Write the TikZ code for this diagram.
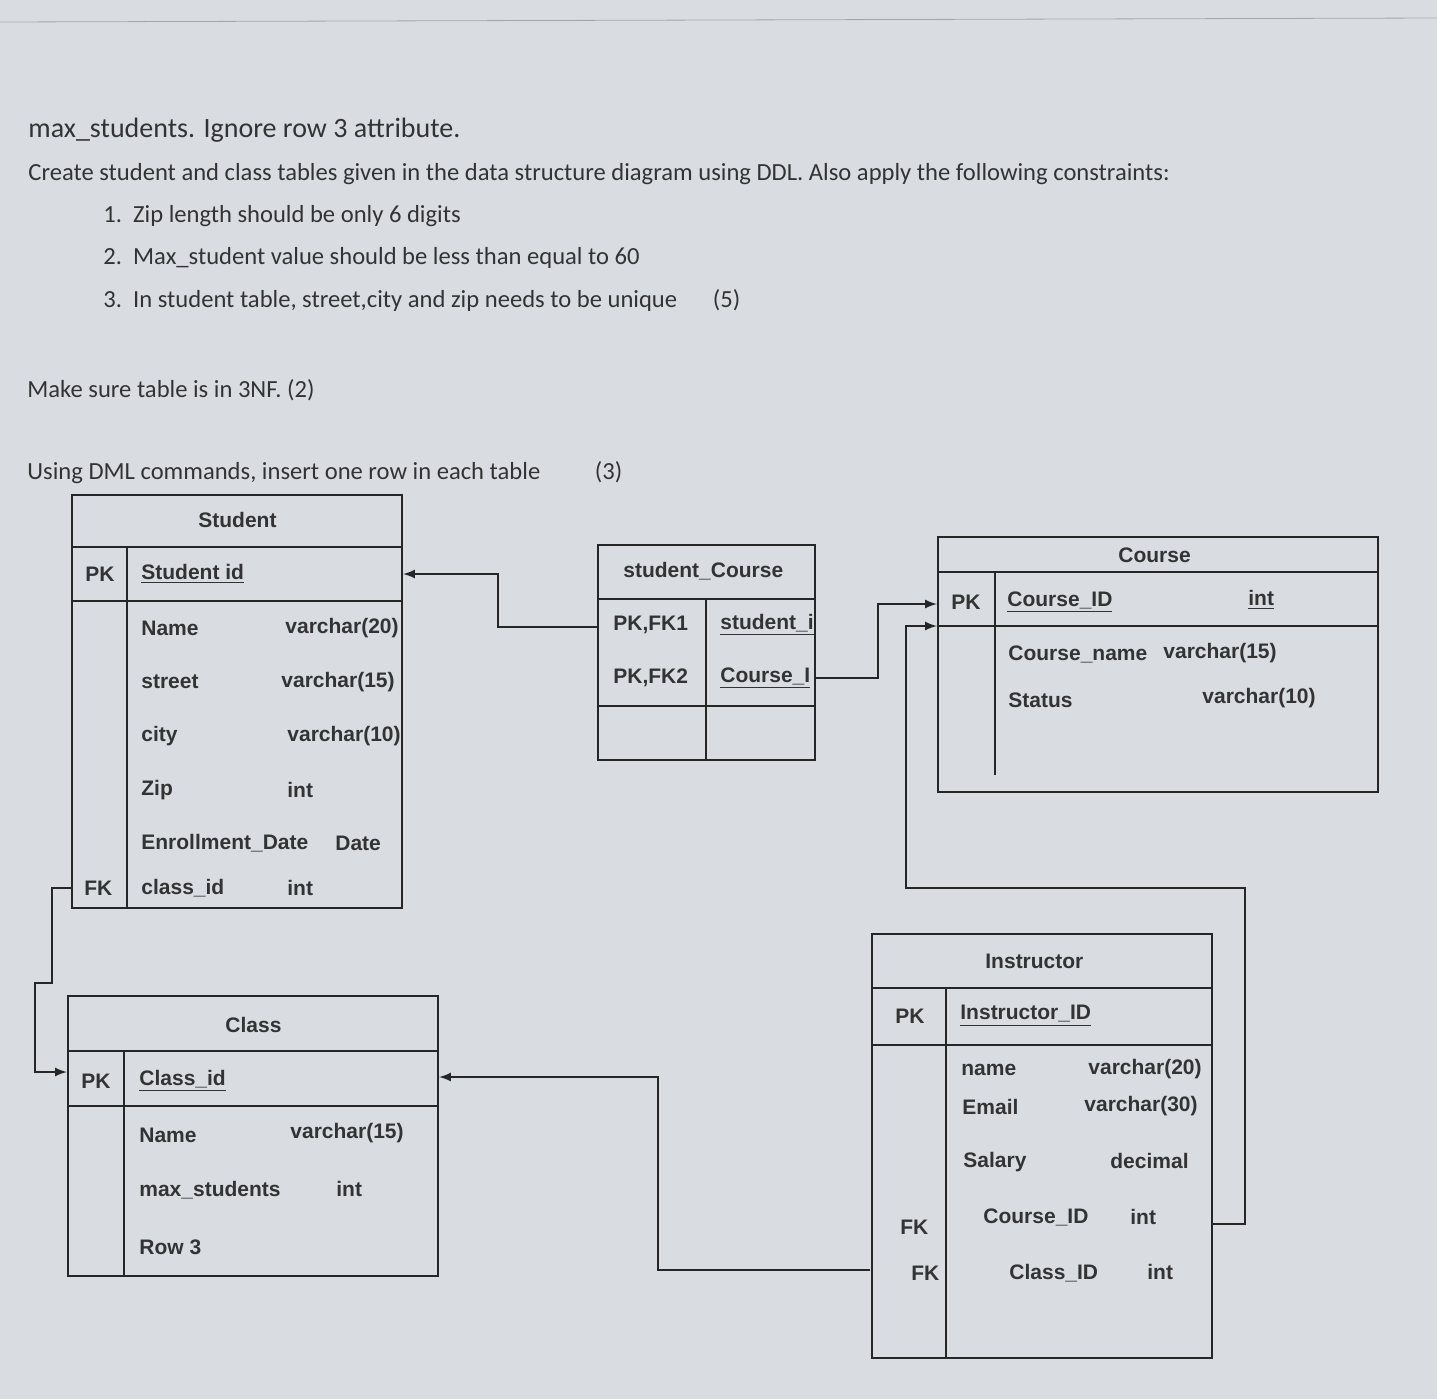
\documentclass[tikz,border=0pt]{standalone}
\usepackage{fontspec}
\setmainfont{Liberation Sans}
\newfontfamily\calib{Carlito}
\definecolor{bg}{HTML}{D9DDE2}
\begin{document}
\begin{tikzpicture}[x=0.5pt,y=-0.5pt,
  tbl/.style={draw=black!85,line width=1.2pt,inner sep=0pt},
  ln/.style={draw=black!85,line width=1pt},
  conn/.style={draw=black!85,line width=1pt},
  arr/.style={conn,-latex},
  t/.style={anchor=west,inner sep=0pt,font=\bfseries\fontsize{10.5}{12}\selectfont,text=black!80},
  q/.style={anchor=west,inner sep=0pt,font=\calib\fontsize{12.3}{14}\selectfont,text=black!80}]
\fill[bg] (0,0) rectangle (1437,1399);
\useasboundingbox (0,0) rectangle (1437,1399);
\draw[gray!70] (0,22) -- (1437,18);
% question text
\node[q,font=\calib\fontsize{14}{16}\selectfont] (q0) at (28,130) {max\_students. Ignore row 3 attribute.};
\node[q] (q1) at (28,174) {Create student and class tables given in the data structure diagram using DDL. Also apply the following constraints:};
\node[q] (q2) at (103,216) {1.\ \ Zip length should be only 6 digits};
\node[q] (q3) at (103,258) {2.\ \ Max\_student value should be less than equal to 60};
\node[q] (q4) at (103,300) {3.\ \ In student table, street,city and zip needs to be unique\quad\ \ (5)};
\node[q] (q5) at (27,390) {Make sure table is in 3NF. (2)};
\node[q] (q6) at (27,473) {Using DML commands, insert one row in each table\qquad\ (3)};
% Student
\node[tbl,minimum width=165pt,minimum height=206.5pt] (student) at (237,701.5) {};
\draw[ln] (72,547)--(402,547) (72,601)--(402,601) (127,547)--(127,908);
\node[t] at (198,520) {Student};
\node[t] at (85,574) {PK};
\node[t] at (141,574) {\underline{Student id}};
\foreach \y/\a/\b/\bx in {628/Name/varchar(20)/285,682/street/varchar(15)/281,736/city/varchar(10)/287,790/Zip/int/287,843/Enrollment\_Date/Date/335,888/class\_id/int/287}
  {\node[t] at (141,\y) {\a}; \node[t] at (\bx,\y) {\b};}
\node[t] at (84,888) {FK};
% student_Course
\node[tbl,minimum width=108.5pt,minimum height=107.5pt] (sc) at (706.5,652.5) {};
\draw[ln] (598,599)--(815,599) (598,706)--(815,706) (706,599)--(706,760);
\node[t] at (623,571) {student\_Course};
\node[t] at (613,625) {PK,FK1}; \node[t] at (720,625) {\underline{student\_i}};
\node[t] at (613,678) {PK,FK2}; \node[t] at (720,678) {\underline{Course\_I}};
% Course
\node[tbl,minimum width=220pt,minimum height=127.5pt] (course) at (1158,664.5) {};
\draw[ln] (938,572)--(1378,572) (938,626)--(1378,626) (995,572)--(995,775);
\node[t] at (1118,555) {Course};
\node[t] at (951,602) {PK}; \node[t] at (1007,602) {\underline{Course\_ID}}; \node[t] at (1248,600) {\underline{int}};
\node[t] at (1008,654) {Course\_name}; \node[t] at (1163,653) {varchar(15)};
\node[t] at (1008,700) {Status}; \node[t] at (1202,698) {varchar(10)};
% Instructor
\node[tbl,minimum width=170pt,minimum height=212pt] (instr) at (1042,1146) {};
\draw[ln] (872,988)--(1212,988) (872,1045)--(1212,1045) (946,988)--(946,1358);
\node[t] at (985,961) {Instructor};
\node[t] at (895,1016) {PK}; \node[t] at (960,1016) {\underline{Instructor\_ID}};
\node[t] at (961,1070) {name}; \node[t] at (1088,1069) {varchar(20)};
\node[t] at (962,1107) {Email}; \node[t] at (1084,1106) {varchar(30)};
\node[t] at (963,1162) {Salary}; \node[t] at (1110,1161) {decimal};
\node[t] at (900,1227) {FK}; \node[t] at (983,1217) {Course\_ID}; \node[t] at (1130,1217) {int};
\node[t] at (911,1273) {FK}; \node[t] at (1009,1273) {Class\_ID}; \node[t] at (1147,1272) {int};
% Class
\node[tbl,minimum width=185pt,minimum height=140pt] (class) at (253,1136) {};
\draw[ln] (68,1051)--(438,1051) (68,1106)--(438,1106) (124,1051)--(124,1276);
\node[t] at (225,1025) {Class};
\node[t] at (81,1081) {PK}; \node[t] at (139,1081) {\underline{Class\_id}};
\node[t] at (139,1135) {Name}; \node[t] at (290,1133) {varchar(15)};
\node[t] at (139,1190) {max\_students}; \node[t] at (336,1189) {int};
\node[t] at (139,1247) {Row 3};
% connectors
\coordinate (c1) at (598,627);
\draw[arr] (c1) -- (498,627) -- (498,574) -- (student.east |- 0,574);
\coordinate (c2) at (815,678);
\draw[arr] (c2) -- (878,678) -- (878,604) -- (course.west |- 0,604);
\coordinate (c3) at (1212,1224);
\draw[arr] (c3) -- (1245,1224) -- (1245,888) -- (906,888) -- (906,626) -- (course.west |- 0,626);
\coordinate (c4) at (870,1270);
\draw[arr] (c4) -- (658,1270) -- (658,1077) -- (class.east |- 0,1077);
\coordinate (c5) at (72,888);
\draw[arr] (c5) -- (52,888) -- (52,983) -- (35,983) -- (35,1072) -- (class.west |- 0,1072);
\end{tikzpicture}
\end{document}
